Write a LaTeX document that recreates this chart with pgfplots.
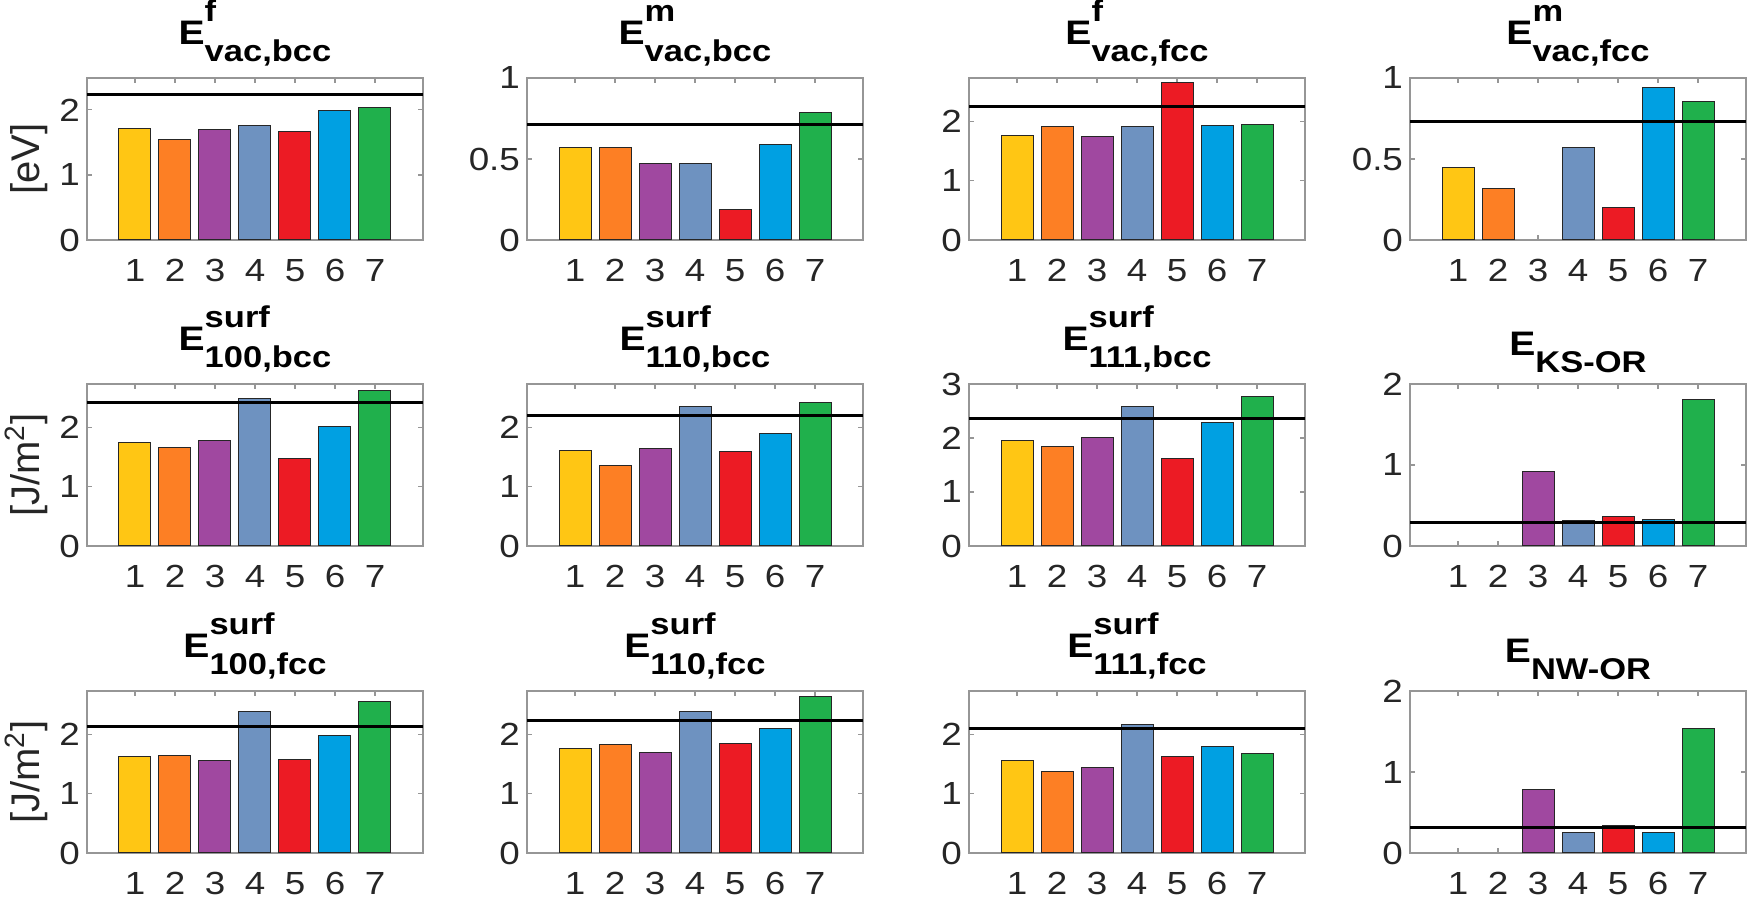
\documentclass[border=0pt]{standalone}
\usepackage{pgfplots}
\pgfplotsset{compat=1.18}
\usepackage{fontspec}
\setmainfont{Liberation Sans}
\definecolor{c1}{RGB}{255,198,20}
\definecolor{c2}{RGB}{253,127,36}
\definecolor{c3}{RGB}{160,72,160}
\definecolor{c4}{RGB}{110,146,192}
\definecolor{c5}{RGB}{236,27,36}
\definecolor{c6}{RGB}{0,160,226}
\definecolor{c7}{RGB}{32,176,76}
\definecolor{axgray}{RGB}{150,150,150}
\definecolor{txt}{RGB}{38,38,38}
\newcommand{\B}[3]{\addplot[fill=#1] coordinates {(#2,#3)};}
\newcommand{\HL}[1]{\addplot[sharp plot, black, line width=1.5pt, forget plot] coordinates {(-0.2,#1) (8.2,#1)};}
\newcommand{\ttl}[2]{\bfseries\scalebox{1.15}[1]{\fontsize{17}{17}\selectfont E\fontsize{15}{15}\selectfont\rlap{\raisebox{11.5pt}{#1}}\raisebox{-8.5pt}{#2}}}
\pgfplotsset{
 panel/.style={
  scale only axis, width=168pt, height=81pt,
  xmin=-0.2, xmax=8.2, ymin=0,
  ybar, bar shift=0pt, bar width=0.8,
  xtick={1,...,7},
  tick align=inside,
  major tick length=2.5pt,
  axis line style={axgray, line width=0.6pt},
  every tick/.style={axgray, line width=0.6pt},
  tick label style={font=\fontsize{16}{16}\selectfont, text=txt},
  /pgf/number format/assume math mode=true,
  xticklabel={\scalebox{1.15}[1]{\pgfmathprintnumber{\tick}}},
  yticklabel={\scalebox{1.15}[1]{\pgfmathprintnumber{\tick}}},
  xticklabel style={yshift=-6pt},
  ylabel style={font=\fontsize{20}{20}\selectfont, text=txt, yshift=-1pt},
  title style={at={(0.5,1)}, anchor=south, inner sep=0pt, yshift=-0.5pt, text=black},
  every axis plot/.append style={draw=black!85, line width=0.5pt},
  anchor=south west,
 }
}
\begin{document}
\begin{tikzpicture}
\useasboundingbox (0,0) rectangle (875pt,451.5pt);
% Row 1
\begin{axis}[panel, at={(43.5pt,331.5pt)}, ymax=2.49, ytick={0,1,2}, ylabel={[eV]}, title={\ttl{f}{vac,bcc}}]
\B{c1}{1}{1.71}\B{c2}{2}{1.55}\B{c3}{3}{1.70}\B{c4}{4}{1.76}\B{c5}{5}{1.67}\B{c6}{6}{1.985}\B{c7}{7}{2.04}
\HL{2.23}
\end{axis}
\begin{axis}[panel, at={(263.5pt,331.5pt)}, ymax=1, ytick={0,0.5,1}, title={\ttl{m}{vac,bcc}}]
\B{c1}{1}{0.57}\B{c2}{2}{0.57}\B{c3}{3}{0.47}\B{c4}{4}{0.47}\B{c5}{5}{0.188}\B{c6}{6}{0.59}\B{c7}{7}{0.79}
\HL{0.711}
\end{axis}
\begin{axis}[panel, at={(484.5pt,331.5pt)}, ymax=2.74, ytick={0,1,2}, title={\ttl{f}{vac,fcc}}]
\B{c1}{1}{1.76}\B{c2}{2}{1.915}\B{c3}{3}{1.75}\B{c4}{4}{1.915}\B{c5}{5}{2.66}\B{c6}{6}{1.93}\B{c7}{7}{1.96}
\HL{2.254}
\end{axis}
\begin{axis}[panel, at={(705pt,331.5pt)}, ymax=1, ytick={0,0.5,1}, title={\ttl{m}{vac,fcc}}]
\B{c1}{1}{0.45}\B{c2}{2}{0.318}\B{c4}{4}{0.571}\B{c5}{5}{0.198}\B{c6}{6}{0.942}\B{c7}{7}{0.852}
\HL{0.732}
\end{axis}
% Row 2
\begin{axis}[panel, at={(43.5pt,178.5pt)}, ymax=2.73, ytick={0,1,2}, ylabel={[J/m\textsuperscript{2}]}, title={\ttl{surf}{100,bcc}}]
\B{c1}{1}{1.74}\B{c2}{2}{1.66}\B{c3}{3}{1.77}\B{c4}{4}{2.49}\B{c5}{5}{1.48}\B{c6}{6}{2.01}\B{c7}{7}{2.62}
\HL{2.41}
\end{axis}
\begin{axis}[panel, at={(263.5pt,178.5pt)}, ymax=2.73, ytick={0,1,2}, title={\ttl{surf}{110,bcc}}]
\B{c1}{1}{1.61}\B{c2}{2}{1.356}\B{c3}{3}{1.64}\B{c4}{4}{2.35}\B{c5}{5}{1.59}\B{c6}{6}{1.90}\B{c7}{7}{2.41}
\HL{2.20}
\end{axis}
\begin{axis}[panel, at={(484.5pt,178.5pt)}, ymax=3, ytick={0,1,2,3}, title={\ttl{surf}{111,bcc}}]
\B{c1}{1}{1.96}\B{c2}{2}{1.84}\B{c3}{3}{2.0}\B{c4}{4}{2.58}\B{c5}{5}{1.62}\B{c6}{6}{2.28}\B{c7}{7}{2.77}
\HL{2.36}
\end{axis}
\begin{axis}[panel, at={(705pt,178.5pt)}, ymax=2, ytick={0,1,2}, title={\ttl{}{KS-OR}}]
\B{c3}{3}{0.92}\B{c4}{4}{0.31}\B{c5}{5}{0.364}\B{c6}{6}{0.326}\B{c7}{7}{1.81}
\HL{0.285}
\end{axis}
% Row 3
\begin{axis}[panel, at={(43.5pt,25pt)}, ymax=2.74, ytick={0,1,2}, ylabel={[J/m\textsuperscript{2}]}, title={\ttl{surf}{100,fcc}}]
\B{c1}{1}{1.64}\B{c2}{2}{1.65}\B{c3}{3}{1.57}\B{c4}{4}{2.40}\B{c5}{5}{1.58}\B{c6}{6}{1.98}\B{c7}{7}{2.57}
\HL{2.14}
\end{axis}
\begin{axis}[panel, at={(263.5pt,25pt)}, ymax=2.74, ytick={0,1,2}, title={\ttl{surf}{110,fcc}}]
\B{c1}{1}{1.76}\B{c2}{2}{1.83}\B{c3}{3}{1.70}\B{c4}{4}{2.40}\B{c5}{5}{1.85}\B{c6}{6}{2.11}\B{c7}{7}{2.65}
\HL{2.236}
\end{axis}
\begin{axis}[panel, at={(484.5pt,25pt)}, ymax=2.74, ytick={0,1,2}, title={\ttl{surf}{111,fcc}}]
\B{c1}{1}{1.57}\B{c2}{2}{1.38}\B{c3}{3}{1.44}\B{c4}{4}{2.17}\B{c5}{5}{1.63}\B{c6}{6}{1.80}\B{c7}{7}{1.68}
\HL{2.10}
\end{axis}
\begin{axis}[panel, at={(705pt,25pt)}, ymax=2, ytick={0,1,2}, title={\ttl{}{NW-OR}}]
\B{c3}{3}{0.78}\B{c4}{4}{0.254}\B{c5}{5}{0.336}\B{c6}{6}{0.254}\B{c7}{7}{1.54}
\HL{0.31}
\end{axis}
\end{tikzpicture}
\end{document}
